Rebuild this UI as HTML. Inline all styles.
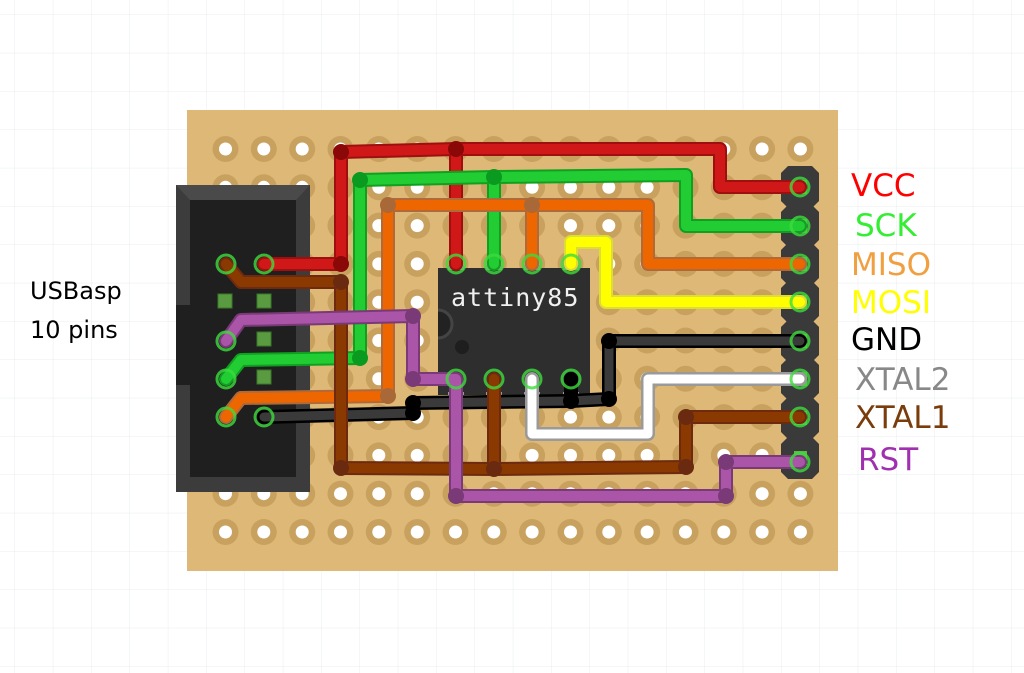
<!DOCTYPE html>
<html><head><meta charset="utf-8"><style>
html,body{margin:0;padding:0;background:#fff;}
svg{display:block;}
</style></head><body>
<svg width="1024" height="673" viewBox="0 0 1024 673" xmlns="http://www.w3.org/2000/svg" xmlns:xlink="http://www.w3.org/1999/xlink" font-family="DejaVu Sans, Liberation Sans, sans-serif">
<defs>
<pattern id="grid" width="38.33" height="38.33" patternUnits="userSpaceOnUse" x="15" y="15">
<path d="M38.33 0V38.33H0" fill="none" stroke="#e8ecf0" stroke-width="1"/>
</pattern>
<g id="hole"><circle r="13" fill="#c9a15f"/><circle r="6.5" fill="#fff"/></g>
<g id="row">
<use xlink:href="#hole" x="225.5"/><use xlink:href="#hole" x="263.8"/><use xlink:href="#hole" x="302.2"/><use xlink:href="#hole" x="340.5"/><use xlink:href="#hole" x="378.8"/><use xlink:href="#hole" x="417.2"/><use xlink:href="#hole" x="455.5"/><use xlink:href="#hole" x="493.8"/><use xlink:href="#hole" x="532.1"/><use xlink:href="#hole" x="570.5"/><use xlink:href="#hole" x="608.8"/><use xlink:href="#hole" x="647.1"/><use xlink:href="#hole" x="685.5"/><use xlink:href="#hole" x="723.8"/><use xlink:href="#hole" x="762.1"/><use xlink:href="#hole" x="800.4"/>
</g>
<g id="oct"><path d="M-12 -21h24l7 7v28l-7 7h-24l-7-7v-28z" fill="#3a3a3a"/><rect x="-6" y="-7" width="13" height="14" fill="#5fb84a"/></g>
</defs>
<rect width="1024" height="673" fill="#fff"/>
<rect width="1024" height="673" fill="url(#grid)"/>
<rect x="187" y="110" width="651" height="461" fill="#deb877"/>
<use xlink:href="#row" y="149"/><use xlink:href="#row" y="187.3"/><use xlink:href="#row" y="225.6"/><use xlink:href="#row" y="263.9"/><use xlink:href="#row" y="302.2"/><use xlink:href="#row" y="340.5"/><use xlink:href="#row" y="378.8"/><use xlink:href="#row" y="417.1"/><use xlink:href="#row" y="455.4"/><use xlink:href="#row" y="493.7"/><use xlink:href="#row" y="532"/>
<!-- header -->
<g transform="translate(800,0)">
<use xlink:href="#oct" y="187"/><use xlink:href="#oct" y="226"/><use xlink:href="#oct" y="264"/><use xlink:href="#oct" y="302"/><use xlink:href="#oct" y="341"/><use xlink:href="#oct" y="379"/><use xlink:href="#oct" y="418"/><use xlink:href="#oct" y="458"/>
</g>
<!-- connector -->
<rect x="176" y="185" width="134" height="307" fill="#3c3c3c"/>
<polygon points="176,185 310,185 296,200 190,200" fill="#4a4a4a"/>
<rect x="190" y="200" width="106" height="277" fill="#1f1f1f"/>
<rect x="176" y="305" width="14" height="80" fill="#1f1f1f"/>
<g fill="#5a9a40" stroke="#3a7a28"><rect x="218" y="294" width="14" height="14"/><rect x="257" y="294" width="14" height="14"/><rect x="257" y="332" width="14" height="14"/><rect x="257" y="370" width="14" height="14"/></g>
<!-- chip -->
<rect x="438" y="268" width="152" height="127" fill="#2e2e2e"/>
<path d="M438 310a14 14 0 0 1 0 28" fill="#222" stroke="#444" stroke-width="3"/>
<circle cx="462" cy="347" r="7" fill="#1e1e1e"/>
<g fill="#999"><rect x="448" y="265" width="16" height="5"/><rect x="486" y="265" width="16" height="5"/><rect x="524" y="265" width="16" height="5"/><rect x="563" y="265" width="16" height="5"/><rect x="448" y="392" width="16" height="5"/><rect x="486" y="392" width="16" height="5"/><rect x="524" y="392" width="16" height="5"/><rect x="563" y="392" width="16" height="5"/></g>
<text x="451" y="306" font-family="DejaVu Sans Mono, Liberation Mono, monospace" font-size="25" fill="#f0f0f0" letter-spacing="1">attiny85</text>
<!-- wires -->
<g fill="none" stroke-width="14" stroke-linejoin="round" stroke-linecap="round">
<g stroke="#9e0f0f"><polyline points="264,264 341,264 341,152 456,149 720,149 720,187 800,187"/><polyline points="456,149 456,264"/></g>
<g stroke="#d01818" stroke-width="10"><polyline points="264,264 341,264 341,152 456,149 720,149 720,187 800,187"/><polyline points="456,149 456,264"/></g>
<g stroke="#10a020"><polyline points="226,379 241,360 360,358 360,180 494,177 686,175 686,226 800,226"/><polyline points="494,177 494,264"/></g>
<g stroke="#22cc33" stroke-width="10"><polyline points="226,379 241,360 360,358 360,180 494,177 686,175 686,226 800,226"/><polyline points="494,177 494,264"/></g>
<g stroke="#b06a3a"><polyline points="226,417 241,398 388,396 388,205 532,205 648,205 648,264 800,264"/><polyline points="532,205 532,264"/></g>
<g stroke="#ee6600" stroke-width="10"><polyline points="226,417 241,398 388,396 388,205 532,205 648,205 648,264 800,264"/><polyline points="532,205 532,264"/></g>
<polyline stroke="#dddd33" points="571,264 571,242 606,242 606,302 800,302"/>
<polyline stroke="#ffff00" stroke-width="10" points="571,264 571,242 606,242 606,302 800,302"/>
<g stroke="#000"><polyline points="264,417 413,413 413,403 571,401 609,399 609,341 800,341"/><polyline points="571,379 571,401"/></g>
<g stroke="#3a3a3a" stroke-width="9"><polyline points="264,417 413,413 413,403 571,401 609,399 609,341 800,341"/></g>
<polyline stroke="#9a9a9a" points="532,379 532,434 648,434 648,379 800,379"/>
<polyline stroke="#fff" stroke-width="9" points="532,379 532,434 648,434 648,379 800,379"/>
<g stroke="#6e2a10"><polyline points="226,264 241,282 341,282 341,468 494,469 686,467 686,417 800,417"/><polyline points="494,379 494,469"/></g>
<g stroke="#8a3a00" stroke-width="10"><polyline points="226,264 241,282 341,282 341,468 494,469 686,467 686,417 800,417"/><polyline points="494,379 494,469"/></g>
<polyline stroke="#7a3a78" points="226,341 241,320 413,316 413,379 456,379 456,496 726,496 726,462 800,462"/>
<polyline stroke="#aa55a8" stroke-width="10" points="226,341 241,320 413,316 413,379 456,379 456,496 726,496 726,462 800,462"/>
</g>
<!-- bend dots -->
<g>
<circle cx="341" cy="152" r="8" fill="#8a0808"/><circle cx="456" cy="149" r="8" fill="#8a0808"/><circle cx="341" cy="264" r="8" fill="#8a0808"/>
<circle cx="360" cy="180" r="8" fill="#0a9a20"/><circle cx="494" cy="177" r="8" fill="#0a9a20"/><circle cx="360" cy="358" r="8" fill="#0a9a20"/>
<circle cx="388" cy="205" r="8" fill="#a86838"/><circle cx="532" cy="205" r="8" fill="#a86838"/><circle cx="388" cy="396" r="8" fill="#a86838"/>
<circle cx="341" cy="282" r="8" fill="#6a2a10"/><circle cx="341" cy="468" r="8" fill="#6a2a10"/><circle cx="494" cy="469" r="8" fill="#6a2a10"/><circle cx="686" cy="467" r="8" fill="#6a2a10"/><circle cx="686" cy="417" r="8" fill="#6a2a10"/>
<circle cx="413" cy="316" r="8" fill="#7a3a78"/><circle cx="413" cy="379" r="8" fill="#7a3a78"/><circle cx="456" cy="496" r="8" fill="#7a3a78"/><circle cx="726" cy="496" r="8" fill="#7a3a78"/><circle cx="726" cy="462" r="8" fill="#7a3a78"/>
<circle cx="413" cy="413" r="8" fill="#000"/><circle cx="413" cy="403" r="8" fill="#000"/><circle cx="571" cy="401" r="8" fill="#000"/><circle cx="609" cy="399" r="8" fill="#000"/><circle cx="609" cy="341" r="8" fill="#000"/>
</g>
<!-- pin glows -->
<g fill="none" stroke="#3ddc3d" stroke-width="3" opacity="0.8">
<circle cx="226" cy="264" r="9"/><circle cx="264" cy="264" r="9"/><circle cx="226" cy="341" r="9"/><circle cx="226" cy="379" r="9"/><circle cx="226" cy="417" r="9"/><circle cx="264" cy="417" r="9"/>
<circle cx="456" cy="264" r="9"/><circle cx="494" cy="264" r="9"/><circle cx="532" cy="264" r="9"/><circle cx="571" cy="264" r="9"/>
<circle cx="456" cy="379" r="9"/><circle cx="494" cy="379" r="9"/><circle cx="532" cy="379" r="9"/><circle cx="571" cy="379" r="9"/>
<circle cx="800" cy="187" r="9"/><circle cx="800" cy="226" r="9"/><circle cx="800" cy="264" r="9"/><circle cx="800" cy="302" r="9"/><circle cx="800" cy="341" r="9"/><circle cx="800" cy="379" r="9"/><circle cx="800" cy="417" r="9"/><circle cx="800" cy="462" r="9"/>
</g>
<!-- labels -->
<g font-size="31">
<text x="851" y="196" fill="#ff0000">VCC</text>
<text x="855" y="236" fill="#33ee33">SCK</text>
<text x="851" y="275" fill="#f0a040">MISO</text>
<text x="851" y="313" fill="#ffff00">MOSI</text>
<text x="851" y="350" fill="#000">GND</text>
<text x="855" y="390" fill="#888">XTAL2</text>
<text x="855" y="428" fill="#7a3c0a">XTAL1</text>
<text x="858" y="470" fill="#a030b0">RST</text>
</g>
<text x="30" y="299" font-size="24" fill="#000">USBasp</text>
<text x="30" y="338" font-size="24" fill="#000">10 pins</text>
</svg>
</body></html>
